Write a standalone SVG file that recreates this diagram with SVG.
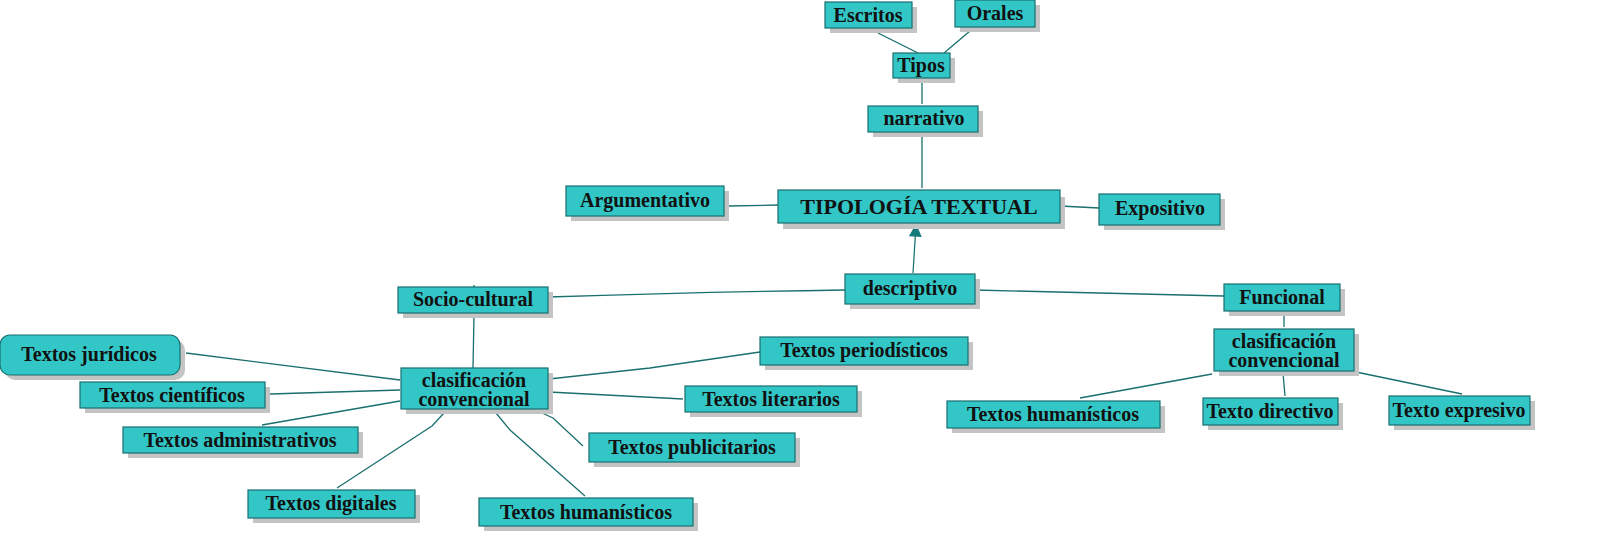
<svg xmlns="http://www.w3.org/2000/svg" width="1600" height="544" viewBox="0 0 1600 544">
<style>
.b{fill:#33c6c6;stroke:#1a6f6f;stroke-width:1.2}
.s{fill:#c4c4c4}
text{font-family:"Liberation Serif",serif;font-weight:bold;font-size:20px;fill:#111;text-anchor:middle}
.c line,.c path{stroke:#1a6f6f;stroke-width:1.3;fill:none}
</style>
<defs><marker id="a" viewBox="0 0 10 10" refX="9" refY="5" markerWidth="14" markerHeight="13" markerUnits="userSpaceOnUse" orient="auto"><path d="M0,0L10,5L0,10z" fill="#137a7a"/></marker></defs>
<rect width="1600" height="544" fill="#fff"/>
<g class="c">
<line x1="878" y1="33" x2="918" y2="53"/><line x1="970" y1="31" x2="944" y2="53"/>
<line x1="922" y1="80" x2="922" y2="104"/>
<line x1="922" y1="134" x2="922" y2="188"/>
<line x1="728" y1="206" x2="778" y2="205"/>
<line x1="1060" y1="206" x2="1099" y2="208"/>
<line x1="913" y1="273" x2="916" y2="225" marker-end="url(#a)"/>
<path d="M548,297 Q700,292 845,290"/>
<path d="M975,290 Q1100,293 1224,296"/>
<line x1="474" y1="285" x2="474" y2="287"/>
<line x1="474" y1="315" x2="473" y2="368"/>
<line x1="1284" y1="313" x2="1284" y2="327"/>
<line x1="1212" y1="374" x2="1080" y2="398"/>
<line x1="1283" y1="373" x2="1285" y2="396"/>
<line x1="1356" y1="372" x2="1462" y2="394"/>
<line x1="186" y1="353" x2="400" y2="380"/>
<line x1="270" y1="394" x2="400" y2="390"/>
<line x1="262" y1="425" x2="400" y2="401"/>
<path d="M444,413 L432,426 L337,488"/>
<path d="M496,413 L510,430 L585,496"/>
<path d="M542,413 L553,418 L583,446"/>
<line x1="549" y1="392" x2="683" y2="399"/>
<path d="M549,379 L650,368 L760,352"/>
</g>
<g id="escritos"><rect class="s" x="830" y="7" width="87" height="26"/><rect class="b" x="825" y="2" width="87" height="26"/><text x="868" y="22">Escritos</text></g>
<g id="orales"><rect class="s" x="960" y="5" width="80" height="27"/><rect class="b" x="955" y="0" width="80" height="27"/><text x="995" y="20">Orales</text></g>
<g id="tipos"><rect class="s" x="898" y="58" width="57" height="25"/><rect class="b" x="893" y="53" width="57" height="25"/><text x="921" y="72">Tipos</text></g>
<g id="narrativo"><rect class="s" x="873" y="111" width="110" height="26"/><rect class="b" x="868" y="106" width="110" height="26"/><text x="924" y="125">narrativo</text></g>
<g id="tipologia"><rect class="s" x="783" y="197" width="282" height="32"/><rect class="b" x="778" y="190" width="282" height="33"/><text x="919" y="214" style="font-size:22px">TIPOLOGÍA TEXTUAL</text></g>
<g id="argumentativo"><rect class="s" x="571" y="191" width="158" height="30"/><rect class="b" x="566" y="186" width="158" height="30"/><text x="645" y="207">Argumentativo</text></g>
<g id="expositivo"><rect class="s" x="1104" y="199" width="121" height="31"/><rect class="b" x="1099" y="194" width="121" height="31"/><text x="1160" y="215">Expositivo</text></g>
<g id="descriptivo"><rect class="s" x="850" y="279" width="130" height="30"/><rect class="b" x="845" y="274" width="130" height="30"/><text x="910" y="295">descriptivo</text></g>
<g id="sociocultural"><rect class="s" x="403" y="292" width="150" height="26"/><rect class="b" x="398" y="287" width="150" height="26"/><text x="473" y="306">Socio-cultural</text></g>
<g id="funcional"><rect class="s" x="1229" y="289" width="116" height="27"/><rect class="b" x="1224" y="284" width="116" height="27"/><text x="1282" y="304">Funcional</text></g>
<g id="clasif-der"><rect class="s" x="1219" y="334" width="140" height="42"/><rect class="b" x="1214" y="329" width="140" height="42"/><text x="1284" y="348">clasificación</text><text x="1284" y="367">convencional</text></g>
<g id="humanisticos-der"><rect class="s" x="952" y="406" width="213" height="27"/><rect class="b" x="947" y="401" width="213" height="27"/><text x="1053" y="421">Textos humanísticos</text></g>
<g id="directivo"><rect class="s" x="1208" y="403" width="135" height="27"/><rect class="b" x="1203" y="398" width="135" height="27"/><text x="1270" y="418">Texto directivo</text></g>
<g id="expresivo"><rect class="s" x="1394" y="401" width="141" height="29"/><rect class="b" x="1389" y="396" width="141" height="29"/><text x="1459" y="417">Texto expresivo</text></g>
<g id="juridicos"><rect class="s" x="5" y="340" width="180" height="40" rx="10"/><rect class="b" x="0" y="335" width="180" height="40" rx="10"/><text x="89" y="361">Textos jurídicos</text></g>
<g id="clasif-izq"><rect class="s" x="406" y="373" width="147" height="41"/><rect class="b" x="401" y="368" width="147" height="41"/><text x="474" y="387">clasificación</text><text x="474" y="406">convencional</text></g>
<g id="cientificos"><rect class="s" x="85" y="387" width="185" height="26"/><rect class="b" x="80" y="382" width="185" height="26"/><text x="172" y="402">Textos científicos</text></g>
<g id="administrativos"><rect class="s" x="128" y="432" width="235" height="26"/><rect class="b" x="123" y="427" width="235" height="26"/><text x="240" y="447">Textos administrativos</text></g>
<g id="digitales"><rect class="s" x="253" y="495" width="167" height="28"/><rect class="b" x="248" y="490" width="167" height="28"/><text x="331" y="510">Textos digitales</text></g>
<g id="humanisticos-izq"><rect class="s" x="484" y="503" width="214" height="28"/><rect class="b" x="479" y="498" width="214" height="28"/><text x="586" y="519">Textos humanísticos</text></g>
<g id="publicitarios"><rect class="s" x="594" y="438" width="206" height="29"/><rect class="b" x="589" y="433" width="206" height="29"/><text x="692" y="454">Textos publicitarios</text></g>
<g id="literarios"><rect class="s" x="690" y="391" width="172" height="26"/><rect class="b" x="685" y="386" width="172" height="26"/><text x="771" y="406">Textos literarios</text></g>
<g id="periodisticos"><rect class="s" x="765" y="342" width="208" height="28"/><rect class="b" x="760" y="337" width="208" height="28"/><text x="864" y="357">Textos periodísticos</text></g>
</svg>
